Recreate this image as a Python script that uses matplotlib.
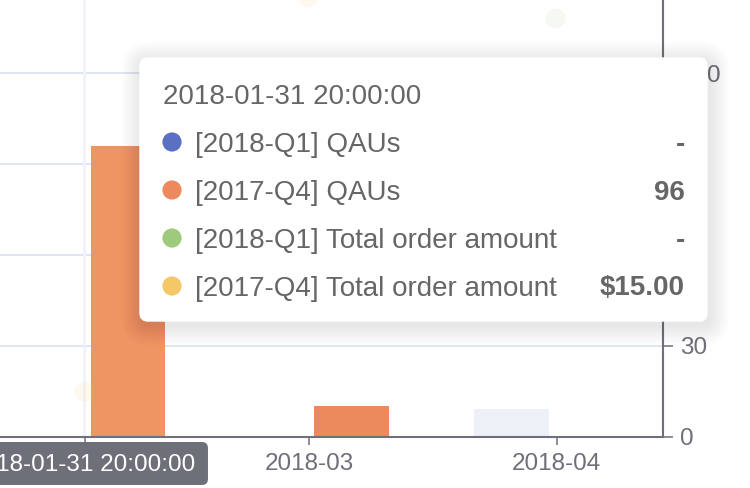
import matplotlib
matplotlib.use("Agg")
import matplotlib.pyplot as plt
import matplotlib.dates as mdates
from matplotlib.patches import FancyBboxPatch, Circle
from matplotlib.transforms import IdentityTransform
import numpy as np
import pandas as pd

plt.rcParams["font.family"] = ["Liberation Sans", "DejaVu Sans"]

# data
dates = pd.to_datetime(["2018-01-31 20:00", "2018-02-28 20:00", "2018-03-31 20:00"])
qau_2018q1 = [np.nan, np.nan, 9]
qau_2017q4 = [96, 10, np.nan]
amount_2018q1 = [np.nan, np.nan, 138]
amount_2017q4 = [15, 145, np.nan]
month_ticks = pd.to_datetime(["2018-02-01", "2018-03-01", "2018-04-01"])
y_ticks = [0, 30, 60, 90, 120]
series_names = ["[2018-Q1] QAUs", "[2017-Q4] QAUs",
                "[2018-Q1] Total order amount", "[2017-Q4] Total order amount"]
hover = 0  # index of the hovered point

# palette
BLUE = "#5a70c3"
ORANGE = "#ec8a5d"
ORANGE_HI = "#ef9563"
GREEN = "#9dca7c"
YELLOW = "#f4c866"
AXIS = "#6E7079"
GRID = "#E0E6F1"
TXT = "#666666"

W, H = 750, 488
fig = plt.figure(figsize=(W / 100, H / 100), dpi=100)
fig.patch.set_facecolor("white")

ax = fig.add_axes([0, 1 - 436.7 / H, 663 / W, 436.7 / H])
x = mdates.date2num(dates)
x0 = x[hover]
ax.set_xlim(x0 - 10.51, x0 + 72.47)
ax.set_ylim(0, 144.1)

# bars (2018-Q1 series is blurred while hovering)
ax.bar(x - 5.5, qau_2018q1, width=9.3, color=BLUE, alpha=0.1, zorder=2)
q4_colors = [ORANGE_HI if i == hover else ORANGE for i in range(len(x))]
ax.bar(x + 5.5, qau_2017q4, width=9.3, color=q4_colors, zorder=2)

# line symbols, faded
ax.plot(x, amount_2018q1, "o", ms=14.4, color=GREEN, alpha=0.1, mec="none", zorder=3)
ax.plot(x, amount_2017q4, "o", ms=14.4, color=YELLOW, alpha=0.1, mec="none", zorder=3)

# axis pointer line
ax.axvline(x0, color="#f1f3f9", lw=2, zorder=1)

ax.set_yticks(y_ticks)
ax.yaxis.tick_right()
ax.grid(axis="y", color=GRID, lw=1.4)
ax.set_axisbelow(True)
ax.set_xticks(mdates.date2num(month_ticks))
ax.xaxis.set_major_formatter(mdates.DateFormatter("%Y-%m"))
for s in ["left", "top"]:
    ax.spines[s].set_visible(False)
for s in ["bottom", "right"]:
    ax.spines[s].set_color(AXIS)
    ax.spines[s].set_linewidth(1.5)
ax.tick_params(axis="x", direction="out", length=6, width=1.1, color=AXIS,
               labelcolor=AXIS, labelsize=17.5, pad=6)
ax.tick_params(axis="y", direction="out", length=7, width=1.1, color=AXIS,
               labelcolor=AXIS, labelsize=17.5, pad=5)

ID = IdentityTransform()

def py(y):
    return H - y

# axis pointer label
px = ax.transData.transform((x0, 0))[0]
fig.add_artist(FancyBboxPatch((px - 124, py(485)), 248, 43,
                              boxstyle="round,pad=0,rounding_size=6",
                              fc=AXIS, ec="none", transform=ID, zorder=10))
fig.text(px - 2, py(471), dates[hover].strftime("%Y-%m-%d %H:%M:%S"), transform=ID,
         ha="center", va="baseline", color="white", fontsize=17.5, zorder=11)

# tooltip with a soft shadow
bx, by, bw, bh = 140, 58, 567, 263
for i in range(12, 0, -1):
    p = i * 1.7
    fig.add_artist(FancyBboxPatch((bx + 2 - p, py(by + bh) - 4 - p), bw + 2 * p, bh + 2 * p,
                                  boxstyle=f"round,pad=0,rounding_size={8 + p}",
                                  fc="black", ec="none", alpha=0.009,
                                  transform=ID, zorder=12))
fig.add_artist(FancyBboxPatch((bx, py(by + bh)), bw, bh,
                              boxstyle="round,pad=0,rounding_size=8",
                              fc="white", ec="white", lw=1, transform=ID, zorder=13))
fig.text(163, py(104), dates[hover].strftime("%Y-%m-%d %H:%M:%S"), transform=ID,
         ha="left", va="baseline", color=TXT, fontsize=20, zorder=14)

def fmt_count(v):
    return "-" if np.isnan(v) else f"{v:.0f}"

def fmt_money(v):
    return "-" if np.isnan(v) else f"${v:.2f}"

rows = [
    (series_names[0], BLUE, fmt_count(qau_2018q1[hover])),
    (series_names[1], ORANGE, fmt_count(qau_2017q4[hover])),
    (series_names[2], GREEN, fmt_money(amount_2018q1[hover])),
    (series_names[3], YELLOW, fmt_money(amount_2017q4[hover])),
]
for i, (name, col, val) in enumerate(rows):
    base = 151.5 + 48 * i
    fig.add_artist(Circle((172, py(base - 9.5)), 9.6, fc=col, ec="none",
                          transform=ID, zorder=14))
    fig.text(195, py(base), name, transform=ID, ha="left", va="baseline",
             color=TXT, fontsize=20, zorder=14)
    fig.text(685, py(base), val, transform=ID, ha="right", va="baseline",
             color=TXT, fontsize=20, fontweight="bold", zorder=14)

fig.savefig("out.png", dpi=100, facecolor="white")
